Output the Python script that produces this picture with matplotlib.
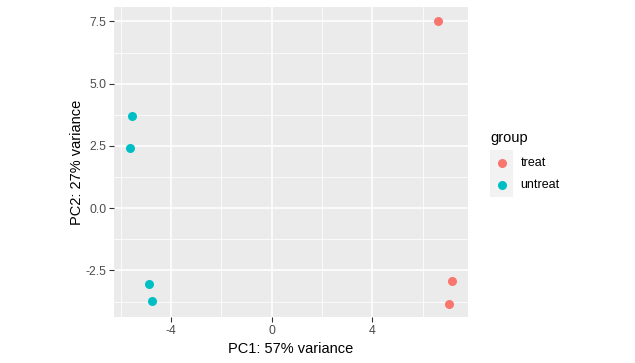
import matplotlib
matplotlib.use("Agg")
import matplotlib.pyplot as plt
from matplotlib.lines import Line2D
from matplotlib.patches import Rectangle

# PCA coordinates
groups = ["treat", "untreat"]
pc1_treat = [6.62, 7.18, 7.06]
pc2_treat = [7.51, -2.93, -3.86]
pc1_untreat = [-5.55, -5.63, -4.90, -4.75]
pc2_untreat = [3.71, 2.41, -3.05, -3.73]
colours = {"treat": "#F8766D", "untreat": "#00BFC4"}

xticks = [-4, 0, 4]
yticks = [-2.5, 0.0, 2.5, 5.0, 7.5]

plt.rcParams['font.family'] = ['Liberation Sans', 'DejaVu Sans']

W, H = 635, 363
fig = plt.figure(figsize=(W / 100, H / 100), dpi=100)
ax = fig.add_axes([0.18, 0.1267, 0.5565, 0.8532])
ax.set_facecolor("#EBEBEB")

ax.plot(pc1_treat, pc2_treat, 'o', color=colours["treat"], markersize=6.5, markeredgewidth=0, zorder=3)
ax.plot(pc1_untreat, pc2_untreat, 'o', color=colours["untreat"], markersize=6.5, markeredgewidth=0, zorder=3)

ax.set_xlim(-6.26, 7.79)
ax.set_ylim(-4.37, 8.07)
ax.set_xticks(xticks)
ax.set_xticklabels([str(t) for t in xticks])
ax.set_yticks(yticks)
ax.set_yticklabels(["%.1f" % t for t in yticks])
ax.set_xticks([-6, -2, 2, 6], minor=True)
ax.set_yticks([-3.75, -1.25, 1.25, 3.75, 6.25], minor=True)

ax.grid(which="major", color="white", linewidth=1.1)
ax.grid(which="minor", color="white", linewidth=0.55)
ax.set_axisbelow(True)
for s in ax.spines.values():
    s.set_visible(False)

ax.tick_params(which="major", direction="out", length=3.5, width=0.8, color="#333333",
               labelsize=8.8, labelcolor="#4D4D4D", pad=2)
ax.tick_params(which="minor", length=0)

ax.set_xlabel("PC1: 57% variance", fontsize=10.5, labelpad=4)
ax.set_ylabel("PC2: 27% variance", fontsize=10.5, labelpad=1)

# legend drawn by hand, ggplot style (grey key boxes)
def fx(px):
    return px / W

def fy(py):
    return 1 - py / H

fig.text(fx(490), fy(138), "group", fontsize=10.5, va="center", ha="left")
fig.add_artist(Rectangle((fx(490), fy(196.7)), fx(23.3), 46.7 / H,
                         transform=fig.transFigure, facecolor="#F2F2F2", edgecolor="none"))
for i, g in enumerate(groups):
    yc = 162.7 + i * 22.6
    fig.add_artist(Line2D([fx(502)], [fy(yc)], marker='o', linestyle='', color=colours[g],
                          markersize=6.5, markeredgewidth=0, transform=fig.transFigure))
    fig.text(fx(520.5), fy(yc), g, fontsize=9, va="center", ha="left")

fig.savefig("out.png", dpi=100)
